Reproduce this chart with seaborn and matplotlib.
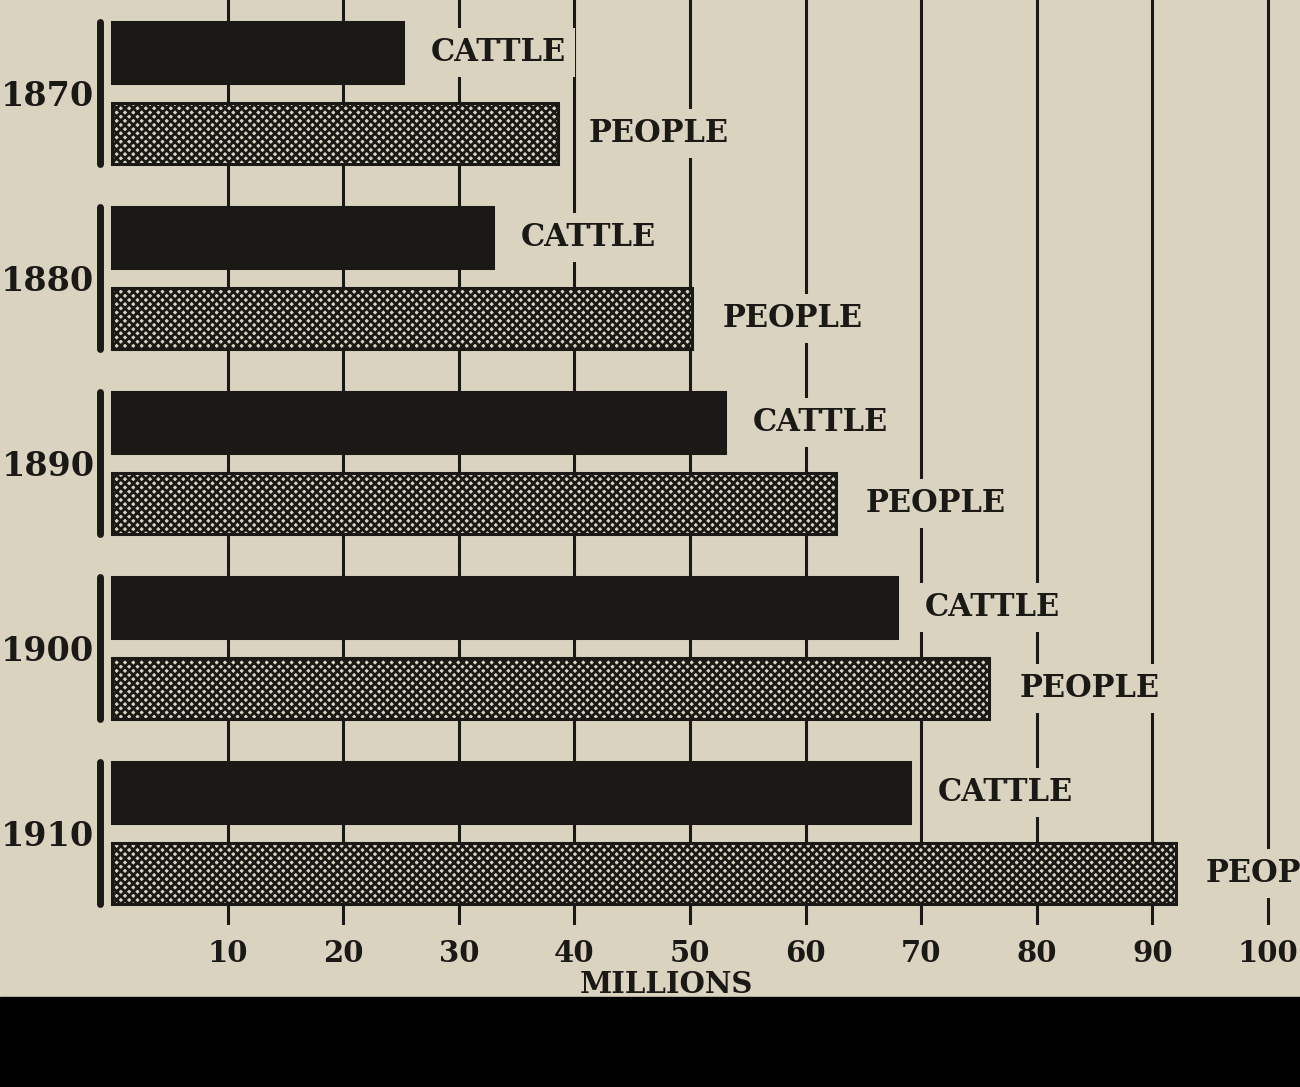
import pandas as pd
import matplotlib.pyplot as plt
import seaborn as sns
from matplotlib.patches import Rectangle

# valores (milhoes)
anos = ['1870', '1880', '1890', '1900', '1910']
gado = [25.2, 33.0, 53.0, 67.9, 69.0]
pessoas = [38.6, 50.2, 62.6, 75.9, 92.0]
tipos = ['CATTLE', 'PEOPLE']
marcas = [10, 20, 30, 40, 50, 60, 70, 80, 90, 100]

dados = pd.DataFrame({
    'ano': anos * 2,
    'milhoes': gado + pessoas,
    'tipo': ['CATTLE'] * len(anos) + ['PEOPLE'] * len(anos),
})

fundo = '#d9d3c0'
tinta = '#1b1916'

sns.set_style('white')
plt.rcParams['font.family'] = ['DejaVu Serif']
plt.rcParams['font.weight'] = 'bold'
plt.rcParams['hatch.linewidth'] = 2.0

fig = plt.figure(figsize=(13, 10.87), dpi=100, facecolor=fundo)
ax = fig.add_axes([96 / 1300, 162 / 1087, 1204 / 1300, 925 / 1087])
ax.set_facecolor(fundo)

sns.barplot(data=dados, x='milhoes', y='ano', hue='tipo', order=anos,
            hue_order=tipos, palette={'CATTLE': tinta, 'PEOPLE': fundo},
            orient='h', width=0.88, gap=0.25, saturation=1,
            edgecolor=tinta, linewidth=2.2, legend=False, ax=ax)

# textura das barras de pessoas
for barra in ax.containers[1]:
    barra.set_hatch('xxxx')
for barra in ax.patches:
    barra.set_zorder(2)

# rotulos ao lado das barras
caixa = dict(facecolor=fundo, edgecolor='none', boxstyle='square,pad=0.3')
for i in range(len(anos)):
    ax.text(gado[i] + 2.4, i - 0.22, 'CATTLE', va='center', ha='left',
            fontsize=22, fontweight='bold', color=tinta, bbox=caixa,
            zorder=3, clip_on=False)
    ax.text(pessoas[i] + 2.6, i + 0.22, 'PEOPLE', va='center', ha='left',
            fontsize=22, fontweight='bold', color=tinta, bbox=caixa,
            zorder=3, clip_on=False)
    # barra vertical que agrupa cada ano
    ax.plot([-1.08, -1.08], [i - 0.385, i + 0.385], color=tinta, lw=5,
            solid_capstyle='round', zorder=2)

ax.set_xlim(-1.384, 102.77)
ax.set_ylim(4.497, -0.503)
ax.set_xticks(marcas)
ax.set_axisbelow(True)
ax.xaxis.grid(True, color=tinta, lw=2.2)
ax.yaxis.grid(False)
ax.tick_params(axis='x', length=0, pad=10, labelsize=21, colors=tinta)
ax.tick_params(axis='y', length=0, pad=1, labelsize=24, colors=tinta)
for lbl in ax.get_xticklabels() + ax.get_yticklabels():
    lbl.set_fontweight('bold')
ax.set_xlabel('MILLIONS', fontsize=21, fontweight='bold', color=tinta)
ax.xaxis.set_label_coords(0.474, -0.049)
ax.set_ylabel('')
for lado in ax.spines.values():
    lado.set_visible(False)

# faixa escura na base da imagem
fig.patches.append(Rectangle((0, 0), 1, 90 / 1087, transform=fig.transFigure,
                             color='black', zorder=0))

plt.savefig('out.png', dpi=100, facecolor=fundo)
